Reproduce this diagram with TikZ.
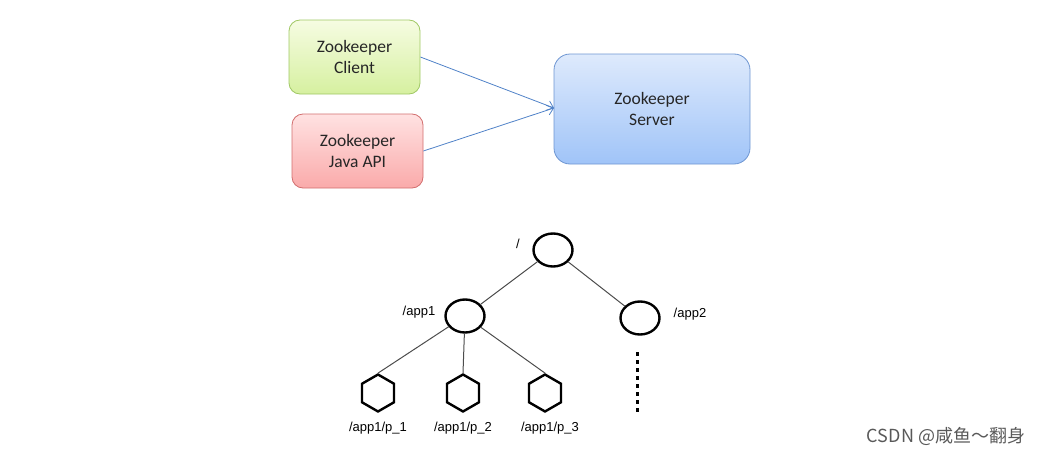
\documentclass[tikz,border=0pt]{standalone}
\usepackage{fontspec}
\setmainfont{Carlito}
\newfontfamily\arialf{Liberation Sans}
\newfontfamily\cjk{Noto Sans CJK SC}
\usetikzlibrary{shapes.geometric,arrows.meta}
\definecolor{srvtop}{RGB}{222,234,252}
\definecolor{srvbot}{RGB}{160,196,248}
\definecolor{srvline}{RGB}{110,150,210}
\definecolor{cltop}{RGB}{246,252,226}
\definecolor{clbot}{RGB}{214,240,160}
\definecolor{clline}{RGB}{160,200,100}
\definecolor{aptop}{RGB}{255,226,226}
\definecolor{apbot}{RGB}{250,170,170}
\definecolor{apline}{RGB}{210,110,110}
\definecolor{arrc}{RGB}{80,130,200}
\begin{document}
\begin{tikzpicture}[x=1pt,y=-1pt,
 box/.style={rounded corners=11pt,draw,line width=0.8pt,align=center,font=\fontsize{17.5}{21}\selectfont,text=black!85},
 arr/.style={draw=arrc,-{Straight Barb[length=6pt,width=10pt]},line width=0.8pt},
 circ/.style={ellipse,draw,line width=2.4pt,minimum width=39pt,minimum height=33pt,inner sep=0pt},
 hex/.style={regular polygon,regular polygon sides=6,shape border rotate=30,draw,line width=2.4pt,minimum size=37pt,inner sep=0pt},
 edge/.style={draw=black!70,line width=1pt},
 lab/.style={font=\arialf\fontsize{13}{15}\selectfont}]
\useasboundingbox (0,0) rectangle (1047,455);
\node[box,draw=clline,top color=cltop,bottom color=clbot,minimum width=131pt,minimum height=74pt] (client) at (354.5,57) {Zookeeper\\Client};
\node[box,draw=apline,top color=aptop,bottom color=apbot,minimum width=131pt,minimum height=74pt] (api) at (357.5,151) {Zookeeper\\Java API};
\node[box,draw=srvline,top color=srvtop,bottom color=srvbot,minimum width=196pt,minimum height=110pt,rounded corners=16pt] (server) at (652,109) {Zookeeper\\Server};
\coordinate (tip) at (554,108);
\draw[arr] (client.east) -- (tip);
\draw[arr] (api.east) -- (tip);
\node[circ] (root) at (553,250) {};
\node[circ] (app1) at (465,316) {};
\node[circ] (app2) at (640,318) {};
\node[hex] (p1) at (378,393) {};
\node[hex] (p2) at (463,393) {};
\node[hex] (p3) at (545,393) {};
\draw[edge] (root) -- (app1);
\draw[edge] (root) -- (app2);
\draw[edge] (app1) -- (p1.north);
\draw[edge] (app1) -- (p2.north);
\draw[edge] (app1) -- (p3.north);
\coordinate (d1) at (637,352);
\coordinate (d2) at (637,414);
\draw[line width=3pt,dash pattern=on 4pt off 4pt] (d1) -- (d2);
\node[lab] (lr) at (518,244) {/};
\node[lab] (l1) at (419,312) {/app1};
\node[lab] (l2) at (690,314) {/app2};
\node[lab] (lp1) at (378,428) {/app1/p\_1};
\node[lab] (lp2) at (463,428) {/app1/p\_2};
\node[lab] (lp3) at (550,428) {/app1/p\_3};
\node[font=\cjk\fontsize{18}{20}\selectfont,text=black!65] (wm) at (946,436) {CSDN @咸鱼～翻身};
\end{tikzpicture}
\end{document}
